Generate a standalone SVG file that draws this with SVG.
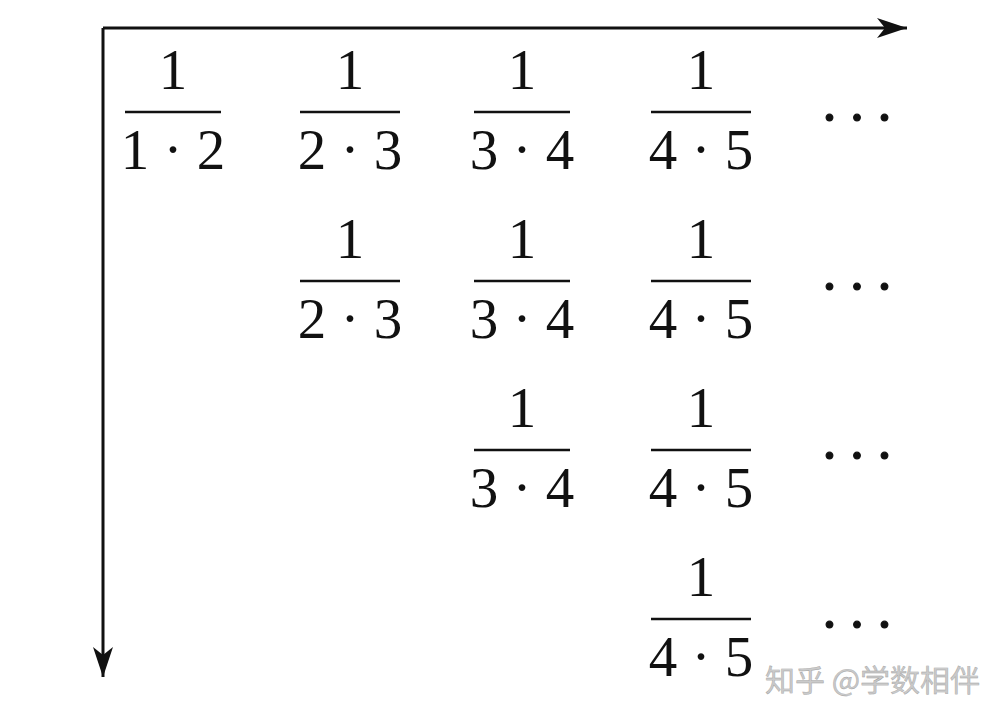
<svg xmlns="http://www.w3.org/2000/svg" width="1008" height="720" viewBox="0 0 1008 720">
<style>
.t{font-family:'Liberation Serif',serif;font-size:57px;fill:#111;text-anchor:middle}
.d{font-family:'Liberation Serif',serif;font-size:57px;fill:#111;stroke:#111;stroke-width:1.2;letter-spacing:8.5px}
.bar{stroke:#111;stroke-width:2.5}
.ax{stroke:#111;stroke-width:3;fill:none}
.wm{font-family:'Noto Sans CJK SC','Noto Sans',sans-serif;font-size:30px;fill:#cacaca;stroke:#a0a0a0;stroke-width:0.4}
</style>
<defs>
<marker id="ah" viewBox="0 0 30 20" refX="30" refY="10" markerWidth="30" markerHeight="20" markerUnits="userSpaceOnUse" orient="auto">
<path d="M0,0 L30,10 L0,20 L8,10 Z" fill="#111"/>
</marker>
</defs>
<rect width="1008" height="720" fill="#fff"/>
<g id="connectors">
<path class="ax" d="M103,28 L907,28" marker-end="url(#ah)"/>
<path class="ax" d="M103,28 L103,677" marker-end="url(#ah)"/>
</g>
<g id="r1c1"><line class="bar" x1="125" y1="112" x2="221" y2="112"/><text class="t" x="173" y="89">1</text><text class="t" x="173" y="169">1 · 2</text></g>
<g id="r1c2"><line class="bar" x1="300" y1="112" x2="400" y2="112"/><text class="t" x="350" y="89">1</text><text class="t" x="350" y="169">2 · 3</text></g>
<g id="r1c3"><line class="bar" x1="474" y1="112" x2="570" y2="112"/><text class="t" x="522" y="89">1</text><text class="t" x="522" y="169">3 · 4</text></g>
<g id="r1c4"><line class="bar" x1="651" y1="112" x2="751" y2="112"/><text class="t" x="701" y="89">1</text><text class="t" x="701" y="169">4 · 5</text></g>
<g id="r1d"><text class="d" x="820" y="137">···</text></g>
<g id="r2c2"><line class="bar" x1="300" y1="281" x2="400" y2="281"/><text class="t" x="350" y="258">1</text><text class="t" x="350" y="338">2 · 3</text></g>
<g id="r2c3"><line class="bar" x1="474" y1="281" x2="570" y2="281"/><text class="t" x="522" y="258">1</text><text class="t" x="522" y="338">3 · 4</text></g>
<g id="r2c4"><line class="bar" x1="651" y1="281" x2="751" y2="281"/><text class="t" x="701" y="258">1</text><text class="t" x="701" y="338">4 · 5</text></g>
<g id="r2d"><text class="d" x="820" y="306">···</text></g>
<g id="r3c3"><line class="bar" x1="474" y1="450" x2="570" y2="450"/><text class="t" x="522" y="427">1</text><text class="t" x="522" y="507">3 · 4</text></g>
<g id="r3c4"><line class="bar" x1="651" y1="450" x2="751" y2="450"/><text class="t" x="701" y="427">1</text><text class="t" x="701" y="507">4 · 5</text></g>
<g id="r3d"><text class="d" x="820" y="475">···</text></g>
<g id="r4c4"><line class="bar" x1="651" y1="619" x2="751" y2="619"/><text class="t" x="701" y="596">1</text><text class="t" x="701" y="676">4 · 5</text></g>
<g id="r4d"><text class="d" x="820" y="644">···</text></g>
<g id="watermark"><text class="wm" x="765" y="691">知乎 @学数相伴</text></g>
</svg>
